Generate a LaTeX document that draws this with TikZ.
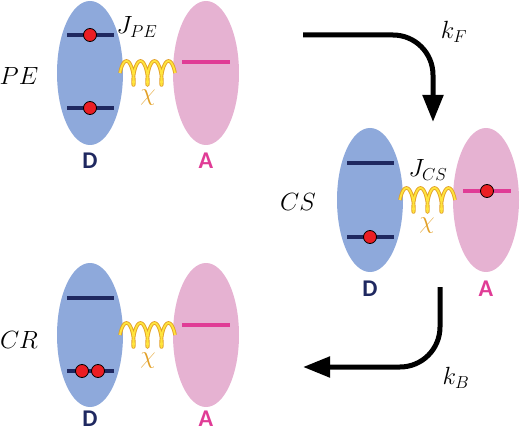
\documentclass[tikz,border=0pt]{standalone}
\usepackage{fontspec}
\newfontfamily\molfont{Carlito}
\usetikzlibrary{arrows.meta, shapes.geometric}

\definecolor{donor}{RGB}{142,169,219}
\definecolor{acceptor}{RGB}{230,178,210}
\definecolor{navy}{RGB}{31,40,96}
\definecolor{pinkline}{RGB}{224,60,150}
\definecolor{dotred}{RGB}{235,30,35}
\definecolor{gold}{RGB}{226,160,40}
\definecolor{springy}{RGB}{255,228,60}

\tikzset{
  mol/.style={ellipse, minimum width=66pt, minimum height=144pt, inner sep=0pt},
  dmol/.style={mol, fill=donor},
  amol/.style={mol, fill=acceptor},
  dlev/.style={rectangle, fill=navy, minimum width=47pt, minimum height=4.5pt, inner sep=0pt},
  alev/.style={rectangle, fill=pinkline, minimum width=48pt, minimum height=4.5pt, inner sep=0pt},
  elec/.style={circle, fill=dotred, draw=black, line width=0.8pt, minimum size=13pt, inner sep=0pt},
  spring/.style={draw=gold, line width=3.6pt, line join=round,
    postaction={draw=springy, line width=1.8pt}},
  dname/.style={font=\molfont\bfseries\fontsize{24}{28}\selectfont, text=navy, inner sep=1pt},
  aname/.style={font=\molfont\bfseries\fontsize{24}{28}\selectfont, text=pinkline, inner sep=1pt},
  lbl/.style={font=\fontsize{24}{28}\selectfont},
  ratelbl/.style={font=\fontsize{26}{30}\selectfont},
  chi/.style={font=\fontsize{24}{28}\selectfont, text=gold},
  rate/.style={line width=5pt, rounded corners=40pt, -{Triangle[length=27pt,width=20pt]}},
}
% coil from the donor's right edge to the acceptor
\newcommand{\coilfrom}[1]{%
  \draw[spring, shift={(#1)}] plot[domain=90:1350, samples=140, smooth]
    ({33 + (\x-90)/360*14 - 3*sin(\x)}, {12*cos(\x)});}

\begin{document}
\begin{tikzpicture}[x=1pt, y=-1pt]
\useasboundingbox (0,0) rectangle (520,433);

% photoexcited state
\node[dmol] (pe-d) at (90,73) {};
\node[amol] (pe-a) at (206,73) {};
\coilfrom{pe-d}
\node[dlev] (pe-d1) at (90,35) {};
\node[dlev] (pe-d2) at (90,108) {};
\node[alev] (pe-a1) at (206,62) {};
\node[elec] at (pe-d1) {};
\node[elec] at (pe-d2) {};
\node[lbl] (pe) at (19,76) {$PE$};
\node[lbl] (pe-j) at (137,27) {$J_{PE}$};
\node[chi] (pe-chi) at (148,98) {$\chi$};
\node[dname] (pe-dl) at (90,161) {D};
\node[aname] (pe-al) at (206,161) {A};

% charge separated state
\node[dmol] (cs-d) at (370,200) {};
\node[amol] (cs-a) at (486,200) {};
\coilfrom{cs-d}
\node[dlev] (cs-d1) at (370,163) {};
\node[dlev] (cs-d2) at (370,237) {};
\node[alev] (cs-a1) at (487,191) {};
\node[elec] at (cs-d2) {};
\node[elec] at (cs-a1) {};
\node[lbl] (cs) at (298,202) {$CS$};
\node[lbl] (cs-j) at (428,170) {$J_{CS}$};
\node[chi] (cs-chi) at (427,226) {$\chi$};
\node[dname] (cs-dl) at (370,289) {D};
\node[aname] (cs-al) at (486,289) {A};

% charge recombination
\node[dmol] (cr-d) at (90,335) {};
\node[amol] (cr-a) at (206,335) {};
\coilfrom{cr-d}
\node[dlev] (cr-d1) at (90,298) {};
\node[dlev] (cr-d2) at (90,371) {};
\node[alev] (cr-a1) at (206,325) {};
\node[elec] at (82,371) {};
\node[elec] at (98,371) {};
\node[lbl] (cr) at (19,340) {$CR$};
\node[chi] (cr-chi) at (148,361) {$\chi$};
\node[dname] (cr-dl) at (90,419) {D};
\node[aname] (cr-al) at (206,419) {A};

% rates
\coordinate (f0) at (303,35);
\coordinate (f1) at (433,35);
\coordinate (f2) at (433,122);
\draw[rate] (f0) -- (f1) -- (f2);
\node[ratelbl] (kf) at (454,32) {$k_F$};

\coordinate (b0) at (440,287);
\coordinate (b1) at (440,367);
\coordinate (b2) at (303,367);
\draw[rate] (b0) -- (b1) -- (b2);
\node[ratelbl] (kb) at (456,378) {$k_B$};
\end{tikzpicture}
\end{document}
